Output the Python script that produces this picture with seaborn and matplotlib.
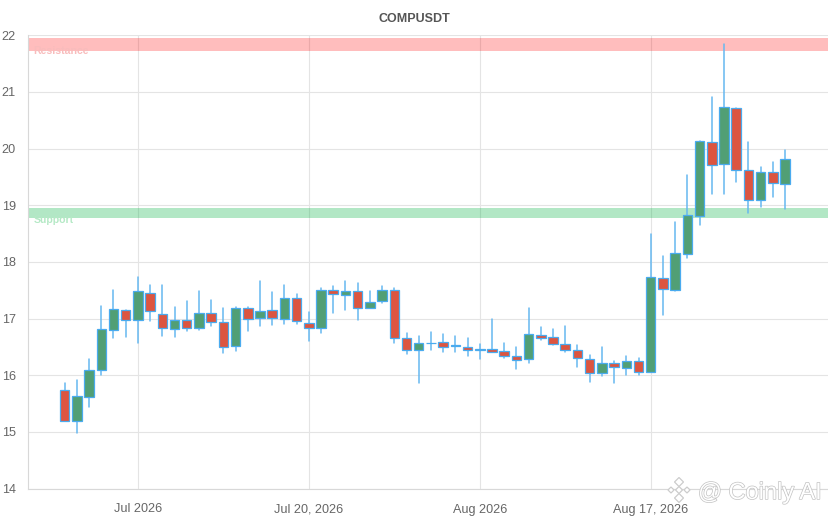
import matplotlib
matplotlib.use("Agg")
import matplotlib.pyplot as plt
import matplotlib.patheffects as pe
from matplotlib.patches import RegularPolygon
from matplotlib.transforms import IdentityTransform
import pandas as pd
import seaborn as sns

# ---------- DATA ----------
opens = [15.73, 15.19, 15.62, 16.10, 16.80, 17.15, 16.97, 17.45, 17.08, 16.82,
         16.98, 16.84, 17.09, 16.94, 16.51, 17.18, 17.01, 17.15, 17.00, 17.36,
         16.92, 16.84, 17.51, 17.42, 17.48, 17.18, 17.31, 17.51, 16.66, 16.44,
         16.575, 16.59, 16.53, 16.49, 16.46, 16.46, 16.42, 16.34, 16.28, 16.71,
         16.68, 16.55, 16.44, 16.29, 16.04, 16.21, 16.13, 16.25, 16.05, 17.72,
         17.50, 18.14, 18.81, 20.12, 19.72, 20.72, 19.63, 19.10, 19.58, 19.38]
closes = [15.19, 15.63, 16.09, 16.81, 17.16, 16.97, 17.49, 17.13, 16.83, 16.98,
          16.84, 17.09, 16.94, 16.50, 17.18, 17.00, 17.13, 17.01, 17.36, 16.95,
          16.83, 17.51, 17.44, 17.49, 17.18, 17.29, 17.51, 16.66, 16.44, 16.56,
          16.565, 16.49, 16.51, 16.45, 16.44, 16.41, 16.34, 16.27, 16.72, 16.65,
          16.55, 16.44, 16.30, 16.04, 16.22, 16.14, 16.25, 16.06, 17.73, 17.52,
          18.16, 18.82, 20.13, 19.71, 20.73, 19.62, 19.10, 19.58, 19.40, 19.82]
highs = [15.87, 15.91, 16.28, 17.22, 17.51, 17.15, 17.74, 17.60, 17.59, 17.20,
         17.31, 17.48, 17.32, 17.19, 17.21, 17.20, 17.66, 17.46, 17.59, 17.43,
         17.11, 17.54, 17.57, 17.66, 17.62, 17.48, 17.58, 17.54, 16.74, 16.69,
         16.76, 16.72, 16.69, 16.66, 16.55, 17.00, 16.56, 16.49, 17.18, 16.85,
         16.81, 16.87, 16.54, 16.35, 16.50, 16.25, 16.34, 16.31, 18.49, 18.10,
         18.71, 19.53, 20.14, 20.91, 21.85, 20.72, 20.11, 19.68, 19.76, 19.97]
lows = [15.19, 14.98, 15.43, 16.00, 16.66, 16.67, 16.56, 16.96, 16.70, 16.68,
        16.78, 16.79, 16.87, 16.40, 16.42, 16.78, 16.87, 16.88, 16.91, 16.90,
        16.61, 16.75, 17.10, 17.15, 16.98, 17.18, 17.28, 16.56, 16.37, 15.86,
        16.44, 16.41, 16.41, 16.34, 16.29, 16.41, 16.30, 16.11, 16.21, 16.62,
        16.53, 16.41, 16.15, 15.88, 15.99, 15.87, 16.01, 16.01, 16.05, 17.07,
        17.48, 18.07, 18.65, 19.19, 19.20, 19.41, 18.86, 18.97, 19.14, 18.94]
tick_pos = [6, 20, 34, 48]
tick_labels = ["Jul 2026", "Jul 20, 2026", "Aug 2026", "Aug 17, 2026"]
y_ticks = [14, 15, 16, 17, 18, 19, 20, 21, 22]
resistance = (21.73, 21.95)
support = (18.77, 18.95)

UP = "#519f75"
DOWN = "#dc5540"
EDGE = "#4aabef"
WICK = "#66b8f0"
GRID = "#e4e4e4"

df = pd.DataFrame({"open": opens, "close": closes, "high": highs, "low": lows})
df["i"] = df.index
wicks = df.melt(id_vars="i", value_vars=["low", "high"], value_name="price")

# ---------- PLOT ----------
sns.set_theme(style="whitegrid")
plt.rcParams["font.family"] = ["Liberation Sans", "DejaVu Sans"]

W, H = 829, 518
fig = plt.figure(figsize=(W / 100, H / 100), dpi=100)
ax = fig.add_axes([28.0 / W, 1 - 488.5 / H, (W - 28.0) / W, (488.5 - 35.3) / H])

ax.axhspan(*resistance, color="#ff0000", alpha=0.26, lw=0, zorder=1.5)
ax.axhspan(*support, color="#00b140", alpha=0.30, lw=0, zorder=1.5)

sns.lineplot(data=wicks, x="i", y="price", units="i", estimator=None, color=WICK,
             lw=1.1, legend=False, ax=ax, zorder=2)

colors = [UP if c >= o else DOWN for o, c in zip(opens, closes)]
ax.bar(df["i"], (df["close"] - df["open"]).abs(), bottom=df[["open", "close"]].min(axis=1),
       width=0.78, color=colors, edgecolor=EDGE, linewidth=0.9, zorder=3)

ax.set_xlim(-3.0, 62.6)
ax.set_ylim(14, 22)
ax.set_xticks(tick_pos, tick_labels)
ax.set_yticks(y_ticks)
ax.set_xlabel("")
ax.set_ylabel("")
ax.grid(True, color=GRID, lw=0.8)
ax.set_axisbelow(True)
for side in ["top", "right"]:
    ax.spines[side].set_visible(False)
for side in ["left", "bottom"]:
    ax.spines[side].set_color("#d8d8d8")
    ax.spines[side].set_linewidth(0.8)
ax.tick_params(axis="both", length=5.8, width=0.8, color=GRID, labelsize=9.1,
               labelcolor="#666666", pad=3)
ax.tick_params(axis="x", pad=5)

ax.text(-2.55, 21.72, "Resistance", color="#f8bcbc", fontsize=7.6,
        fontweight="bold", va="center", ha="left", zorder=4)
ax.text(-2.55, 18.74, "Support", color="#b4e9c5", fontsize=7.6,
        fontweight="bold", va="center", ha="left", zorder=4)

fig.text(414.5 / W, 1 - 18.5 / H, "COMPUSDT", color="#555555", fontsize=9,
         fontweight="bold", ha="center", va="center")

# ---------- WATERMARK ----------
halo = [pe.withStroke(linewidth=1.0, foreground="#c2c2c2")]
fig.text(698 / W, 1 - 493 / H, "@ Coinly AI", color="#ffffff", fontsize=17,
         ha="left", va="center", path_effects=halo, zorder=6)
logo = [(679, 482, 4.5), (679, 498, 4.5), (671, 490, 3), (687, 490, 3), (679, 490, 3.5)]
for px, py, r in logo:
    fig.add_artist(RegularPolygon((px, H - py), 4, radius=r, transform=IdentityTransform(),
                                  facecolor="#ffffff", edgecolor="#cccccc", lw=0.9, zorder=6))

fig.savefig("out.png", dpi=100)
plt.close(fig)
